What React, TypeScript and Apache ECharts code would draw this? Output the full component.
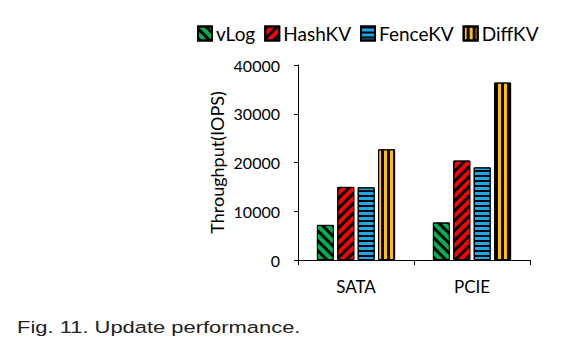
import React, { useEffect, useRef } from "react";
import * as echarts from "echarts";

const categories = ["SATA", "PCIE"];
const seriesNames = ["vLog", "HashKV", "FenceKV", "DiffKV"];
const vLog = [7200, 7700];
const hashKV = [15000, 20400];
const fenceKV = [14900, 19000];
const diffKV = [22700, 36400];
const yTicks = { min: 0, max: 40000, interval: 10000 };

const colors = ["#00b050", "#ff0000", "#1aa7e8", "#ffc000"];
const decals = [
  { symbol: "rect", dashArrayX: [1, 0], dashArrayY: [2.5, 3.5], rotation: Math.PI / 4, color: "#000", symbolSize: 1 },
  { symbol: "rect", dashArrayX: [1, 0], dashArrayY: [2.5, 3.5], rotation: -Math.PI / 4, color: "#000", symbolSize: 1 },
  { symbol: "rect", dashArrayX: [1, 0], dashArrayY: [1.5, 3], rotation: 0, color: "#000", symbolSize: 1 },
  { symbol: "rect", dashArrayX: [1, 0], dashArrayY: [2.5, 3], rotation: Math.PI / 2, color: "#000", symbolSize: 1 },
];

const FONT = "Lato, 'Open Sans', sans-serif";

export default function App() {
  const ref = useRef<HTMLDivElement>(null);
  useEffect(() => {
    if (!ref.current) return;
    const chart = echarts.init(ref.current, undefined, { renderer: "svg" });
    const data = [vLog, hashKV, fenceKV, diffKV];
    chart.setOption({
      animation: false,
      backgroundColor: "#fff",
      legend: {
        left: 192,
        top: 19,
        itemWidth: 14,
        itemHeight: 14,
        itemGap: 9,
        icon: "rect",
        textStyle: { fontFamily: FONT, fontSize: 19, color: "#000", padding: [0, 0, 0, -1] },
        data: seriesNames,
      },
      grid: { left: 298, right: 51, top: 65, bottom: 94, containLabel: false },
      xAxis: {
        type: "category",
        data: categories,
        axisLine: { lineStyle: { color: "#000", width: 1 } },
        axisTick: { show: true, length: 5, lineStyle: { color: "#000" } },
        axisLabel: { fontFamily: FONT, fontSize: 17, color: "#000", margin: 18 },
      },
      yAxis: {
        type: "value",
        min: yTicks.min,
        max: yTicks.max,
        interval: yTicks.interval,
        name: "Throughput(IOPS)",
        nameLocation: "middle",
        nameGap: 72,
        nameTextStyle: { fontFamily: FONT, fontSize: 18, color: "#000" },
        axisLine: { show: true, lineStyle: { color: "#000", width: 1 } },
        axisTick: { show: true, length: 4, lineStyle: { color: "#000" } },
        axisLabel: {
          fontFamily: FONT,
          fontSize: 16,
          color: "#000",
          margin: 18,
          formatter: (v: number) => String(v),
        },
        splitLine: { show: false },
      },
      series: seriesNames.map((name, i) => ({
        name,
        type: "bar",
        data: data[i],
        barWidth: 17,
        barGap: "20%",
        itemStyle: {
          color: colors[i],
          borderColor: "#000",
          borderWidth: 1,
          decal: decals[i],
        },
      })),
      graphic: [
        {
          type: "text",
          left: 17,
          top: 318,
          scaleX: 1.29,
          style: {
            text: "Fig. 11. Update performance.",
            font: "17px 'Liberation Sans', Arial, sans-serif",
            fill: "#222",
          },
        },
      ],
    });
    return () => chart.dispose();
  }, []);
  return <div ref={ref} style={{ width: 581, height: 354, position: "absolute", left: 0, top: 0 }} />;
}
